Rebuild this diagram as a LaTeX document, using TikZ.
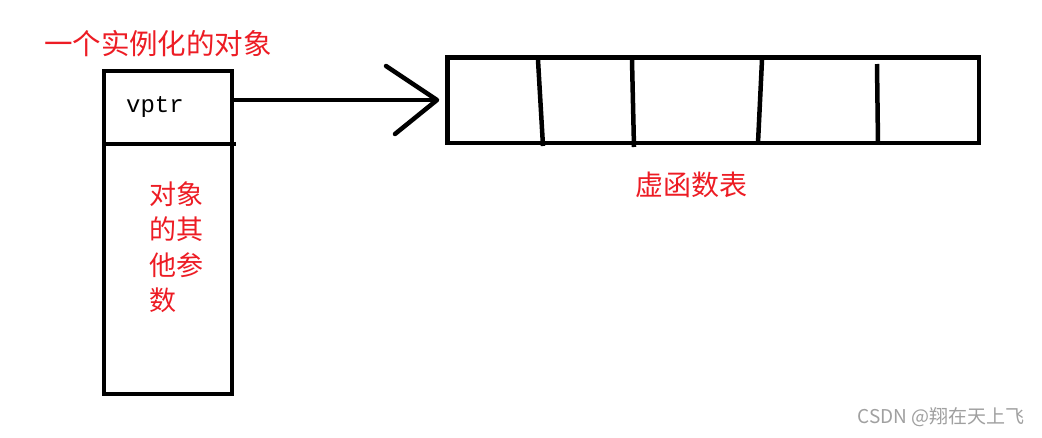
\documentclass[tikz,border=0pt]{standalone}
\usepackage{fontspec}
\setmonofont{Liberation Mono}
\newfontfamily\cjk{Noto Sans CJK SC}
\definecolor{pen}{RGB}{237,28,36}
\definecolor{wgray}{RGB}{160,160,160}
\tikzset{
  slot/.style={draw, inner sep=0pt},
  redtext/.style={text=pen, inner sep=0pt, font=\cjk\fontsize{27}{35.5}\selectfont},
  ptrtext/.style={inner sep=0pt, font=\ttfamily\fontsize{24}{24}\selectfont},
  wmark/.style={text=wgray, inner sep=0pt, font=\cjk\fontsize{19}{19}\selectfont}
}

\begin{document}
\begin{tikzpicture}[x=1pt,y=-1pt,line width=4.5pt]
  \useasboundingbox[fill=white] (0,0) rectangle (1042,437);
  % the object
  \node[redtext, font=\cjk\fontsize{28.5}{28.5}\selectfont] (objtitle) at (158,44) {一个实例化的对象};
  \node[slot, minimum width=128pt, minimum height=323pt] (obj) at (168,232.5) {};
  \coordinate (splitL) at (104,144);
  \coordinate (splitR) at (236,144);
  \draw (splitL) -- (splitR);
  \node[ptrtext] (vptr) at (155,107) {vptr};
  \node[redtext, anchor=north west, align=left] (rest) at (147,179) {对象\\的其\\他参\\数};
  % the table
  \node[slot, minimum width=531.5pt, minimum height=85.5pt] (vtbl) at (713.25,100.25) {};
  \foreach \t/\b/\s/\e in {538/543/60/146, 632/634/60/147, 762/758/60/143, 877/878/64/143}
    \draw (\t,\s) -- (\b,\e);
  \node[redtext, font=\cjk\fontsize{28}{28}\selectfont] (vtbllabel) at (691,185) {虚函数表};
  % the pointer
  \coordinate (tip) at (437,100);
  \coordinate (armA) at (386,66);
  \coordinate (armB) at (395,134);
  \draw (obj.east |- tip) -- (tip);
  \draw[line cap=round, line join=round] (armA) -- (tip) -- (armB);
  \node[wmark, anchor=east] (csdn) at (1027,417) {CSDN @翔在天上飞};
\end{tikzpicture}
\end{document}
